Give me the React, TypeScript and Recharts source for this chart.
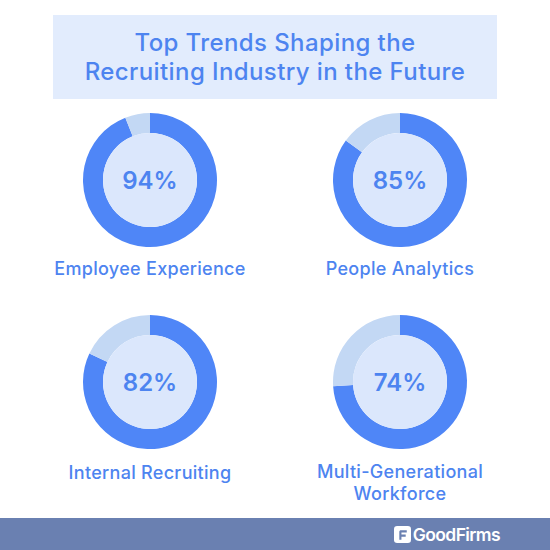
import { PieChart, Pie, Cell, Label } from "recharts"

const trendNames = ["Employee Experience", "People Analytics", "Internal Recruiting", "Multi-Generational Workforce"]
const trendLabelLines = [["Employee Experience"], ["People Analytics"], ["Internal Recruiting"], ["Multi-Generational", "Workforce"]]
const trendShares = [94, 85, 82, 74]
const titleLines = ["Top Trends Shaping the", "Recruiting Industry in the Future"]

const BLUE = "#4f86f7"
const LIGHT = "#c3d8f4"
const INNER = "#dbe7fc"
const TEXT = "#4d84f0"
const FONT = "Inter, 'Open Sans', sans-serif"

const centers = [
  { cx: 150, cy: 180 },
  { cx: 400, cy: 180 },
  { cx: 150, cy: 382 },
  { cx: 400, cy: 382 },
]
const labelY = [269, 269, 473, 472]
const SIZE = 140

function Donut({ name, share }: { name: string; share: number }) {
  const data = [
    { name, value: share },
    { name: "rest", value: 100 - share },
  ]
  return (
    <PieChart width={SIZE} height={SIZE} margin={{ top: 0, right: 0, bottom: 0, left: 0 }}>
      <Pie
        data={data}
        dataKey="value"
        cx="50%"
        cy="50%"
        innerRadius={47}
        outerRadius={67}
        startAngle={90}
        endAngle={-270}
        stroke="none"
        isAnimationActive={false}
      >
        <Cell fill={BLUE} />
        <Cell fill={LIGHT} />
      </Pie>
      <Pie
        data={[{ name: "inner", value: 1 }]}
        dataKey="value"
        cx="50%"
        cy="50%"
        innerRadius={0}
        outerRadius={47}
        fill={INNER}
        stroke="none"
        isAnimationActive={false}
      >
        <Label
          value={`${share}%`}
          position="center"
          fill={TEXT}
          style={{ fontSize: 24, fontWeight: 600, fontFamily: FONT }}
        />
      </Pie>
    </PieChart>
  )
}

export default function App() {
  return (
    <div style={{ position: "fixed", left: 0, top: 0, width: 550, height: 550, background: "#fff", fontFamily: FONT, overflow: "hidden" }}>
      <div
        style={{
          position: "absolute", left: 53, top: 15, width: 444, height: 84, background: "#e2ecfd",
          display: "flex", flexDirection: "column", justifyContent: "center", alignItems: "center",
          color: TEXT, fontSize: 24, fontWeight: 500, lineHeight: "29px", letterSpacing: 0.4,
        }}
      >
        {titleLines.map((t) => <div key={t}>{t}</div>)}
      </div>

      {trendNames.map((name, i) => (
        <div key={name} style={{ position: "absolute", left: centers[i].cx - SIZE / 2, top: centers[i].cy - SIZE / 2 }}>
          <Donut name={name} share={trendShares[i]} />
        </div>
      ))}

      {trendLabelLines.map((lines, i) => (
        <div
          key={i}
          style={{
            position: "absolute", left: centers[i].cx - 125, width: 250, top: labelY[i] - 11,
            textAlign: "center", color: TEXT, fontSize: 18, fontWeight: 500, lineHeight: "22px", letterSpacing: 0.3,
          }}
        >
          {lines.map((l) => <div key={l}>{l}</div>)}
        </div>
      ))}

      <div
        style={{
          position: "absolute", left: 0, top: 518, width: 550, height: 32, background: "#6a80b1",
          display: "flex", alignItems: "center", justifyContent: "flex-end", paddingRight: 50, boxSizing: "border-box",
        }}
      >
        <svg width={17} height={17} viewBox="0 0 16 16" style={{ marginRight: 2 }}>
          <rect x={0} y={0} width={16} height={16} rx={3} fill="#fff" />
          <path d="M5 13V5.5C5 4.6 5.6 4 6.5 4H12V6H7V8H11V10H7V13Z" fill="#6a80b1" />
        </svg>
        <span style={{ color: "#fff", fontSize: 17.5, fontWeight: 600, letterSpacing: -0.6 }}>GoodFirms</span>
      </div>
    </div>
  )
}
